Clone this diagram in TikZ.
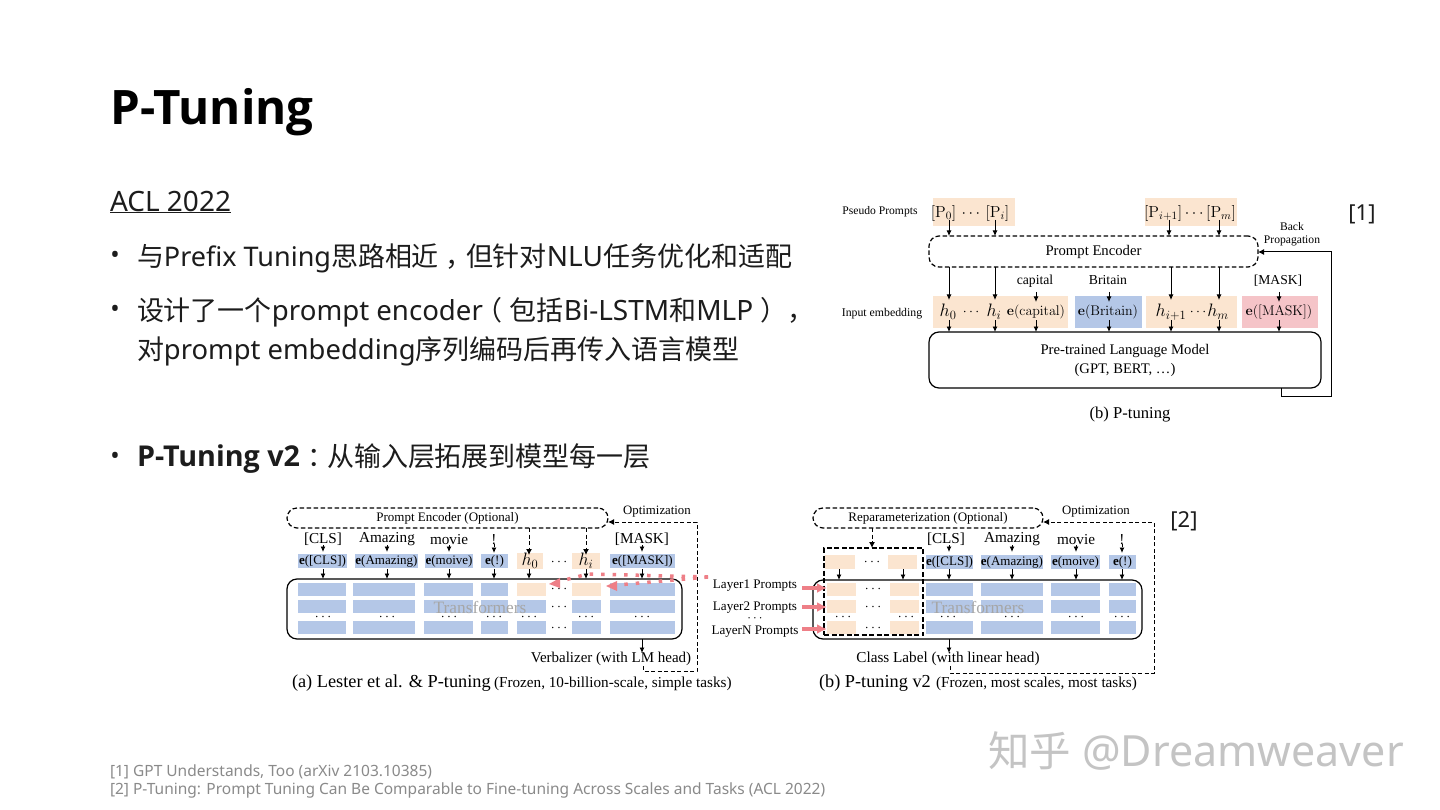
\documentclass[tikz,border=0pt]{standalone}
\usepackage{fix-cm}
\usepackage[no-math]{fontspec}
\usetikzlibrary{arrows.meta}
\setmainfont{Noto Sans}
\newfontfamily\cjk[Scale=0.964]{Noto Sans CJK SC}
\newfontfamily\rmser{Liberation Serif}
\newfontfamily\bsans[BoldFont={* Bold}]{Open Sans}
\newcommand\zh[1]{{\cjk #1}}
% full-width punctuation centred in its cell: shift glyph inside the em box
\newcommand\zp[2]{{\cjk\kern#1pt #2\kern-#1pt}}
\newcommand\fs[1]{\fontsize{#1}{#1}\selectfont}
\definecolor{peach}{HTML}{FBE5D0}
\definecolor{bluebox}{HTML}{B4C7E7}
\definecolor{pinkbox}{HTML}{F5C4C8}
\definecolor{redarrow}{HTML}{EE7F87}
\definecolor{foot}{HTML}{8A8A8A}
\definecolor{wm}{HTML}{C4C4C4}
\definecolor{ink}{HTML}{1C1C1C}
\tikzset{
  x=1pt,y=-1pt,
  fillbox/.style={inner sep=0pt,outer sep=0pt,anchor=center,text=black},
  pk/.style={fillbox,fill=peach},
  bl/.style={fillbox,fill=bluebox},
  pi/.style={fillbox,fill=pinkbox},
  frame/.style={fillbox,draw=black,line width=1.2pt,rounded corners=10pt},
  dframe/.style={fillbox,draw=black,line width=1.2pt,dash pattern=on 4.5pt off 2.5pt,rounded corners=10pt},
  dashbox/.style={fillbox,draw=black,line width=1.3pt,dash pattern=on 5pt off 2.5pt},
  ser/.style={inner sep=0pt,outer sep=0pt,yshift=-1.5pt,font=\rmser\fs{#1}},
  ser/.default=13,
  slide/.style={inner sep=0pt,outer sep=0pt,anchor=west,text=ink,font=\fs{28}},
  bul/.style={inner sep=0pt,outer sep=0pt,text=ink,font=\fs{25}},
  footn/.style={inner sep=0pt,outer sep=0pt,anchor=west,text=foot,font=\fs{15.5}},
  refn/.style={inner sep=0pt,outer sep=0pt,text=ink,font=\fs{22}},
  ar/.style={-{Latex[length=5.5pt,width=5pt]},line width=.9pt,black},
  dar/.style={-{Latex[length=6pt,width=6pt]},line width=1pt,black,dash pattern=on 4pt off 2.5pt},
  pinkar/.style={-{Latex[length=10pt,width=10pt]},line width=3.2pt,redarrow},
  dotl/.style={line width=3.5pt,redarrow,dash pattern=on 3.5pt off 8pt},
}
% box by its corners: name x1 y1 x2 y2 style text
\newcommand\bx[7]{%
  \pgfmathsetmacro\bw{#4-#2}\pgfmathsetmacro\bh{#5-#3}%
  \pgfmathsetmacro\bcx{(#4+#2)/2}\pgfmathsetmacro\bcy{(#5+#3)/2}%
  \node[#6,minimum width=\bw pt,minimum height=\bh pt] (#1) at (\bcx,\bcy) {#7};}
% arrow with named ends: name x y1 y2
\newcommand\arr[4]{%
  \coordinate (#1a) at (#2,#3); \coordinate (#1b) at (#2,#4);
  \draw[ar] (#1a) -- (#1b);}
\begin{document}
\begin{tikzpicture}
\useasboundingbox (0,0) rectangle (1440,810);
\fill[white] (0,0) rectangle (1440,810);

% ---- slide text
\node[inner sep=0pt,anchor=west,text=black,font=\bsans\bfseries\fs{47.5}] (title) at (110,112) {P-Tuning};
\node[slide] (acl) at (110,202) {\underline{ACL 2022}};
\node[bul] (b1) at (115,257) {•};
\node[slide] (t1) at (137,258) {\zh{与}{\fs{27}Prefix Tuning}\zh{思路相近}\zp{7}{，}\zh{但针对}NLU\zh{任务优化和适配}};
\node[bul] (b2) at (115,311) {•};
\node[slide] (t2) at (137,312) {\zh{设计了一个}{\fs{27.6}prompt encoder}\zp{-7}{（}\zh{包括}Bi-LSTM\zh{和}MLP\zp{7}{）}\zp{7}{，}};
\node[slide] (t3) at (137,351) {\zh{对}{\fs{27.4}prompt embedding}\zh{序列编码后再传入语言模型}};
\node[bul] (b3) at (115,458) {•};
\node[slide] (t4) at (137,459) {{\bsans\bfseries\fs{28.7}P-Tuning v2}\zp{7}{：}\zh{从输入层拓展到模型每一层}};
\node[footn] (f1) at (110,772) {[1] GPT Understands, Too (arXiv 2103.10385)};
\node[footn] (f2) at (110,790) {[2] P-Tuning: Prompt Tuning Can Be Comparable to Fine-tuning Across Scales and Tasks (ACL 2022)};
\node[inner sep=0pt,anchor=west,text=wm,font=\fs{43}] (wmark) at (988,751) {\zh{知乎} @Dreamweaver};
\node[refn] (r1) at (1362,214) {[1]};
\node[refn] (r2) at (1184,521) {[2]};

% ---- top diagram: P-tuning
\node[ser=11.6] (pplab) at (880,210) {Pseudo Prompts};
\node[ser=11.8] (ielab) at (882,312) {Input embedding};
\bx{pp1}{933}{198}{1015}{226}{pk}{}
\bx{pp2}{1145}{198}{1237}{226}{pk}{}
\node[ser=16] (pp1t) at (970,212) {$[\mathrm{P}_0]\,\cdots\,[\mathrm{P}_i]$};
\node[ser=16] (pp2t) at (1190,212) {$[\mathrm{P}_{i+1}]\cdots[\mathrm{P}_m]$};
\bx{penc}{929}{236}{1258}{267}{dframe}{\rmser\fs{14.7}\raisebox{-1pt}{Prompt Encoder}}
\bx{ie1}{933}{296}{1068}{328}{pk}{}
\bx{ie2}{1075}{296}{1142}{328}{bl}{}
\bx{ie3}{1146}{296}{1237}{328}{pk}{}
\bx{ie4}{1242}{296}{1318}{328}{pi}{}
\node[ser=18] (h0) at (948,310.5) {$h_0$};
\node[ser=14] (hd) at (971,310.5) {$\cdots$};
\node[ser=18] (hi) at (994,310.5) {$h_i$};
\node[ser=14] (ecap) at (1036,310.5) {$\mathbf{e}(\mathrm{capital})$};
\node[ser=14] (ebri) at (1108,310.5) {$\mathbf{e}(\mathrm{Britain})$};
\node[ser=18] (hi1) at (1171,310.5) {$h_{i+1}$};
\node[ser=14] (hd2) at (1198,310.5) {$\cdots$};
\node[ser=18] (hm) at (1218,310.5) {$h_m$};
\node[ser=14] (emask) at (1279,310.5) {$\mathbf{e}([\mathrm{MASK}])$};
\node[ser=13.7] (capt) at (1035,280) {capital};
\node[ser=13.7] (brit) at (1108,279) {Britain};
\node[ser=13.6] (mskt) at (1278,279) {[MASK]};
\bx{plm}{929}{332}{1321}{388}{frame}{}
\node[ser=14.7] (plm1) at (1125,349) {Pre-trained Language Model};
\node[ser=14.6] (plm2) at (1125,368) {(GPT, BERT, \ldots)};
\node[ser=16.6] (cap1) at (1130,413) {(b) P-tuning};
\node[ser=11.6] (bp1) at (1292,225) {Back};
\node[ser=11.6] (bp2) at (1292,239) {Propagation};
\arr{ta}{949}{220}{236}\arr{tb}{995}{220}{236}\arr{tc}{1169}{220}{236}\arr{td}{1219}{220}{236}
\arr{ua}{949}{267}{300}\arr{ub}{995}{267}{300}\arr{uc}{1171}{267}{300}\arr{ud}{1219}{267}{300}
\arr{va}{1036}{292}{302}\arr{vb}{1109}{292}{302}\arr{vc}{1279}{292}{302}
\arr{wa}{949}{320}{332}\arr{wb}{995}{320}{332}\arr{wc}{1036}{320}{332}\arr{wd}{1109}{320}{332}
\arr{we}{1171}{320}{332}\arr{wf}{1219}{320}{332}\arr{wg}{1279}{320}{332}
\coordinate (bk1) at (1281,388); \coordinate (bk2) at (1281,396); \coordinate (bk3) at (1331,396); \coordinate (bk4) at (1331,252);
\draw[-{Latex[length=6pt,width=6pt]},line width=1pt] (bk1) -- (bk2) -- (bk3) -- (bk4) -- (penc.east |- bk4);

% ---- bottom left diagram
\bx{lenc}{287}{508}{608}{528}{dframe}{\rmser\fs{13}\raisebox{-1pt}{Prompt Encoder (Optional)}}
\node[ser=12.8] (lopt) at (657,510) {Optimization};
\foreach \n/\x/\t in {a/323/[CLS],b/387/Amazing,c/449/movie,d/494/!,e/642/[MASK]}
  \node[ser=15.2] (ltok\n) at (\x,538) {\t};
\bx{le1}{298}{554}{347}{568}{bl}{\rmser\fs{13}\textbf{e}([CLS])}
\bx{le2}{356}{554}{417}{568}{bl}{\rmser\fs{13}\textbf{e}(Amazing)}
\bx{le3}{425}{554}{473}{568}{bl}{\rmser\fs{13}\textbf{e}(moive)}
\bx{le4}{481}{554}{508}{568}{bl}{\rmser\fs{13}\textbf{e}(!)}
\bx{le5}{517}{554}{543}{568}{pk}{\fs{18}$h_0$}
\bx{le6}{572}{554}{600}{568}{pk}{\fs{18}$h_i$}
\bx{le7}{610}{554}{675}{568}{bl}{\rmser\fs{13}\textbf{e}([MASK])}
\node[ser=14] (ldt0) at (559,561) {$\cdots$};
% layer rows
\foreach \r/\ya/\yb in {1/583/596,2/600/613,3/621/634}{
  \bx{lr\r a}{298}{\ya}{346}{\yb}{bl}{}
  \bx{lr\r b}{353}{\ya}{415}{\yb}{bl}{}
  \bx{lr\r c}{424}{\ya}{473}{\yb}{bl}{}
  \bx{lr\r d}{481}{\ya}{508}{\yb}{bl}{}
  \bx{lr\r g}{610}{\ya}{675}{\yb}{bl}{}
}
\bx{lr1e}{517}{583}{546}{596}{pk}{}
\bx{lr1f}{572}{583}{601}{596}{pk}{}
\bx{lr2e}{517}{600}{546}{613}{bl}{}
\bx{lr2f}{572}{600}{601}{613}{bl}{}
\bx{lr3e}{517}{621}{546}{634}{bl}{}
\bx{lr3f}{572}{621}{601}{634}{bl}{}
\foreach \n/\x in {a/323,b/387,c/449,d/494,e/529,f/586,g/642}
  \node[ser=14] (ldot\n) at (\x,615.5) {$\cdots$};
\foreach \n/\y in {a/587.5,b/605.5,c/626.5}
  \node[ser=14] (lmid\n) at (559,\y) {$\cdots$};
\node[ser=17.3,text=black!35] (ltr) at (480,606) {Transformers};
\bx{ltrans}{287}{579}{682}{639}{frame}{}
\arr{lua}{323}{545}{552}\arr{lub}{387}{545}{552}\arr{luc}{449}{545}{552}\arr{lue}{642}{545}{552}
\coordinate (ldua) at (494,544); \coordinate (ldub) at (494,553);
\draw[ar,dash pattern=on 3pt off 1.5pt] (ldua) -- (ldub);
\coordinate (lh0a) at (529,528); \coordinate (lh0b) at (529,555);
\coordinate (lhia) at (586,528); \coordinate (lhib) at (586,555);
\draw[dar] (lh0a) -- (lh0b); \draw[dar] (lhia) -- (lhib);
\foreach \n/\x in {a/323,b/387,c/449,d/494,e/529,f/586,g/642}{
  \arr{ll\n}{\x}{569}{579}}
\arr{lout}{642}{639}{653}
\node[ser=15] (lverb) at (611,657.5) {Verbalizer (with LM head)};
\coordinate (lo1) at (643,666); \coordinate (lo2) at (643,671); \coordinate (lo3) at (697,671); \coordinate (lo4) at (697,522);
\draw[dar] (lo1) -- (lo2) -- (lo3) -- (lo4) -- (lenc.east |- lo4);
\node[ser=15.2,anchor=west] (lcapb) at (494,682.5) {(Frozen, 10-billion-scale, simple tasks)};
\node[ser=18.3,anchor=west] (lcapa) at (292,681.5) {(a) Lester et al. \& P-tuning};

% ---- bottom right diagram
\bx{renc}{813}{508}{1043}{528}{dframe}{\rmser\fs{13}\raisebox{-1pt}{Reparameterization (Optional)}}
\node[ser=12.8] (ropt) at (1096,510) {Optimization};
\foreach \n/\x/\t in {a/946/[CLS],b/1012/Amazing,c/1076/movie,d/1122/!}
  \node[ser=15.2] (rtok\n) at (\x,538) {\t};
\bx{rp1}{825}{555}{855}{569}{pk}{}
\bx{rp2}{888}{555}{917}{569}{pk}{}
\node[ser=14] (rdt0) at (872,561) {$\cdots$};
\bx{re1}{926}{555}{973}{569}{bl}{\rmser\fs{13}\textbf{e}([CLS])}
\bx{re2}{981}{555}{1043}{569}{bl}{\rmser\fs{13}\textbf{e}(Amazing)}
\bx{re3}{1051}{555}{1100}{569}{bl}{\rmser\fs{13}\textbf{e}(moive)}
\bx{re4}{1109}{555}{1136}{569}{bl}{\rmser\fs{13}\textbf{e}(!)}
\foreach \r/\ya/\yb in {1/583/596,2/600/613,3/621/634}{
  \bx{rr\r a}{827}{\ya}{856}{\yb}{pk}{}
  \bx{rr\r b}{890}{\ya}{919}{\yb}{pk}{}
  \bx{rr\r c}{926}{\ya}{973}{\yb}{bl}{}
  \bx{rr\r d}{981}{\ya}{1043}{\yb}{bl}{}
  \bx{rr\r e}{1051}{\ya}{1100}{\yb}{bl}{}
  \bx{rr\r f}{1109}{\ya}{1136}{\yb}{bl}{}
}
\foreach \n/\x in {a/843,b/906,c/948,d/1012,e/1076,f/1122}
  \node[ser=14] (rdot\n) at (\x,615.5) {$\cdots$};
\foreach \n/\y in {a/587.5,b/605.5,c/626.5}
  \node[ser=14] (rmid\n) at (873,\y) {$\cdots$};
\node[ser=17.3,text=black!35] (rtr) at (978,606) {Transformers};
\bx{rtrans}{813}{580}{1142}{639}{frame}{}
\bx{rdash}{824}{548}{923}{635}{dashbox}{}
\arr{rua}{949}{545}{552}\arr{rub}{1012}{545}{552}\arr{ruc}{1076}{545}{552}
\coordinate (rdua) at (1122,544); \coordinate (rdub) at (1122,553);
\draw[ar,dash pattern=on 3pt off 1.5pt] (rdua) -- (rdub);
\coordinate (rd1) at (872,528);
\draw[dar] (rd1) -- (rdash.north -| rd1);
\foreach \n/\x in {a/839,b/903,c/949,d/1012,e/1076,f/1122}{
  \arr{rl\n}{\x}{569}{580}}
\arr{rout}{949}{639}{653}
\node[ser=15.2] (rclass) at (948,657.5) {Class Label (with linear head)};
\coordinate (ro1) at (950,666); \coordinate (ro2) at (950,673); \coordinate (ro3) at (1154,673); \coordinate (ro4) at (1154,522);
\draw[dar] (ro1) -- (ro2) -- (ro3) -- (ro4) -- (renc.east |- ro4);
\node[ser=18.3,anchor=west] (rcapa) at (819,681.5) {(b) P-tuning v2};
\node[ser=15.2,anchor=west] (rcapb) at (936,682.5) {(Frozen, most scales, most tasks)};

% ---- layer labels and red arrows
\node[ser=13.1] (lay1) at (755,584.5) {Layer1 Prompts};
\node[ser=13.1] (lay2) at (755,606.5) {Layer2 Prompts};
\node[ser=13.1] (layd) at (755,617) {$\cdots$};
\node[ser=13.1] (layn) at (755,630.5) {LayerN Prompts};
\coordinate (ra1) at (802,588); \coordinate (ra2) at (802,607); \coordinate (ra3) at (802,629);
\draw[pinkar] (ra1) -- (rr1a.west |- ra1);
\draw[pinkar] (ra2) -- (rr2a.west |- ra2);
\draw[pinkar] (ra3) -- (rr3a.west |- ra3);
\coordinate (ds) at (708,577); \coordinate (dm) at (588,574); \coordinate (dt1) at (549,584); \coordinate (dt2) at (606,586);
\draw[dotl] (ds) -- (dm) -- (dt1);
\draw[dotl] (ds) -- (dt2);
\fill[redarrow] (dt1) -- ++(11,-6) -- ++(0,10) -- cycle;
\fill[redarrow] (dt2) -- ++(11,-5) -- ++(0,10) -- cycle;
\end{tikzpicture}
\end{document}
